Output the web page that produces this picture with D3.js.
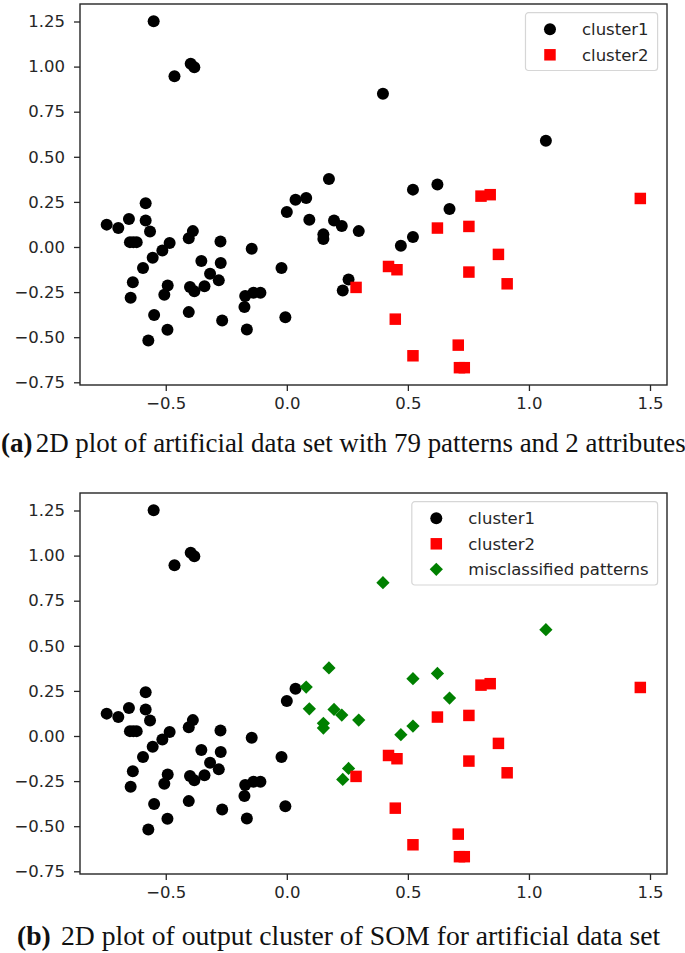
<!DOCTYPE html>
<html>
<head>
<meta charset="utf-8">
<script src="https://cdn.jsdelivr.net/npm/d3@7"></script>
<style>
  body { margin: 0; background: #fff; }
  svg { display: block; }
  .tick text { font-family: "DejaVu Sans", sans-serif; font-size: 16.5px; fill: #262626; }
  .tick line { stroke: #262626; stroke-width: 1.3; }
  .legend text { font-family: "DejaVu Sans", sans-serif; font-size: 16.5px; fill: #262626; }
  .caption { font-family: "Liberation Serif", serif; fill: #111; }
</style>
</head>
<body>
<svg id="figure" width="685" height="953"></svg>
<script>
// cluster1 points that SOM put in the right place
const cluster1Kept = [
  [-0.550, 1.251], [-0.464, 0.947], [-0.397, 1.016], [-0.382, 0.997],
  [-0.744, 0.124], [-0.696, 0.105], [-0.652, 0.155], [-0.583, 0.243], [-0.583, 0.147], [-0.565, 0.086],
  [-0.648, 0.027], [-0.634, 0.027], [-0.620, 0.027],
  [-0.484, 0.022], [-0.514, -0.019], [-0.554, -0.059], [-0.594, -0.117], [-0.636, -0.196],
  [-0.645, -0.281], [-0.548, -0.377], [-0.572, -0.518], [-0.493, -0.459],
  [-0.506, -0.265], [-0.492, -0.213], [-0.405, 0.049], [-0.388, 0.088], [-0.405, -0.361],
  [-0.400, -0.222], [-0.382, -0.246],
  [-0.353, -0.078], [-0.317, -0.148], [-0.340, -0.217], [-0.281, -0.185], [-0.273, -0.089],
  [-0.274, 0.031], [-0.267, -0.407],
  [-0.145, -0.010], [-0.172, -0.272], [-0.138, -0.253], [-0.109, -0.253], [-0.175, -0.333], [-0.165, -0.457],
  [-0.022, -0.117], [-0.006, -0.389], [0.000, 0.194], [0.036, 0.262],
];
// cluster1 points that SOM put in cluster2
const misclassified = [
  [0.080, 0.271], [0.093, 0.151], [0.151, 0.070], [0.151, 0.044], [0.174, 0.377],
  [0.195, 0.147], [0.227, 0.116], [0.297, 0.088], [0.255, -0.180], [0.231, -0.241],
  [0.397, 0.850], [0.521, 0.318], [0.622, 0.347], [0.672, 0.210], [0.521, 0.055],
  [0.471, 0.007], [1.070, 0.589],
];
const cluster2 = [
  [0.286, -0.224], [0.420, -0.108], [0.455, -0.126], [0.448, -0.400], [0.521, -0.603],
  [0.622, 0.105], [0.752, 0.114], [0.752, -0.139], [0.802, 0.282], [0.840, 0.290],
  [0.874, -0.041], [0.910, -0.204], [0.708, -0.544], [0.713, -0.669], [0.733, -0.669],
  [1.460, 0.269],
];
const xTicks = [-0.5, 0.0, 0.5, 1.0, 1.5];
const yTicks = [-0.75, -0.5, -0.25, 0.0, 0.25, 0.5, 0.75, 1.0, 1.25];
const seriesNames = ["cluster1", "cluster2", "misclassified patterns"];
const captionA = ["(a)", "2D plot of artificial data set with 79 patterns and 2 attributes"];
const captionB = ["(b)", "\u00a02D plot of output cluster of SOM for artificial data set"];

const svg = d3.select("#figure");
const allPoints = [...cluster1Kept, ...misclassified, ...cluster2];

// matplotlib style 5% margins around the data
function padded(values) {
  const [lo, hi] = d3.extent(values);
  const pad = (hi - lo) * 0.05;
  return [lo - pad, hi + pad];
}
const xDomain = padded(allPoints.map((d) => d[0]));
const yDomain = padded(allPoints.map((d) => d[1]));

const markers = {
  circle: { type: d3.symbolCircle, size: Math.PI * 36, color: "#000000" },
  square: { type: d3.symbolSquare, size: 132, color: "#ff0000" },
  diamond: { type: d3.symbolDiamond2, size: 112, color: "#008000" },
};

function renderScatter(top, layers, legendItems) {
  const left = 80, right = 667, height = 381;
  const x = d3.scaleLinear().domain(xDomain).range([left, right]);
  const y = d3.scaleLinear().domain(yDomain).range([top + height, top]);
  const g = svg.append("g");

  g.append("g")
    .attr("transform", `translate(${left},0)`)
    .call(d3.axisLeft(y).tickValues(yTicks).tickFormat(d3.format(".2f"))
      .tickSize(6).tickPadding(9))
    .call((a) => a.select(".domain").remove());
  g.append("g")
    .attr("transform", `translate(0,${top + height})`)
    .call(d3.axisBottom(x).tickValues(xTicks).tickFormat(d3.format(".1f"))
      .tickSize(6).tickPadding(6))
    .call((a) => a.select(".domain").remove());

  layers.forEach(([points, m]) => {
    g.append("g")
      .selectAll("path")
      .data(points)
      .join("path")
      .attr("transform", (d) => `translate(${x(d[0])},${y(d[1])})`)
      .attr("d", d3.symbol(m.type, m.size))
      .attr("fill", m.color);
  });

  g.append("rect")
    .attr("x", left).attr("y", top)
    .attr("width", right - left).attr("height", height)
    .attr("fill", "none").attr("stroke", "#262626").attr("stroke-width", 1.4);

  // legend, upper right
  const lg = g.append("g").attr("class", "legend");
  const box = lg.append("rect")
    .attr("fill", "#fff").attr("fill-opacity", 0.8)
    .attr("stroke", "#d6d6d6").attr("stroke-width", 1.2).attr("rx", 3);
  const rowGap = 25.5;
  const row = lg.selectAll(".row")
    .data(legendItems)
    .join("g")
    .attr("class", "row")
    .attr("transform", (d, i) => `translate(0,${i * rowGap})`);
  row.append("path")
    .attr("transform", "translate(24.5,16.6)")
    .attr("d", (d) => d3.symbol(d.marker.type, d.marker.size)())
    .attr("fill", (d) => d.marker.color);
  row.append("text")
    .attr("x", 56.5).attr("y", 16.6).attr("dy", "0.35em")
    .text((d) => d.name);
  const textW = d3.max(row.selectAll("text").nodes(), (n) => n.getComputedTextLength());
  const boxW = 56.5 + textW + 9;
  const boxH = 16.6 + (legendItems.length - 1) * rowGap + 15.7;
  box.attr("width", boxW).attr("height", boxH);
  lg.attr("transform", `translate(${right - 9.4 - boxW},${top + 8.7})`);
}

function renderCaption(baseline, x0, x1, [label, body]) {
  const t = svg.append("text").attr("class", "caption")
    .attr("x", x0).attr("y", baseline).attr("font-size", 20);
  t.append("tspan").attr("font-weight", "bold").text(label);
  t.append("tspan").attr("dx", "0.12em").text(body);
  const w = t.node().getComputedTextLength();
  t.attr("font-size", (20 * (x1 - x0)) / w);
}

renderScatter(4, [
  [[...cluster1Kept, ...misclassified], markers.circle],
  [cluster2, markers.square],
], [
  { name: seriesNames[0], marker: markers.circle },
  { name: seriesNames[1], marker: markers.square },
]);

renderScatter(493, [
  [cluster1Kept, markers.circle],
  [misclassified, markers.diamond],
  [cluster2, markers.square],
], [
  { name: seriesNames[0], marker: markers.circle },
  { name: seriesNames[1], marker: markers.square },
  { name: seriesNames[2], marker: markers.diamond },
]);

renderCaption(452, 1, 683, captionA);
renderCaption(945, 17, 657, captionB);
</script>
</body>
</html>
